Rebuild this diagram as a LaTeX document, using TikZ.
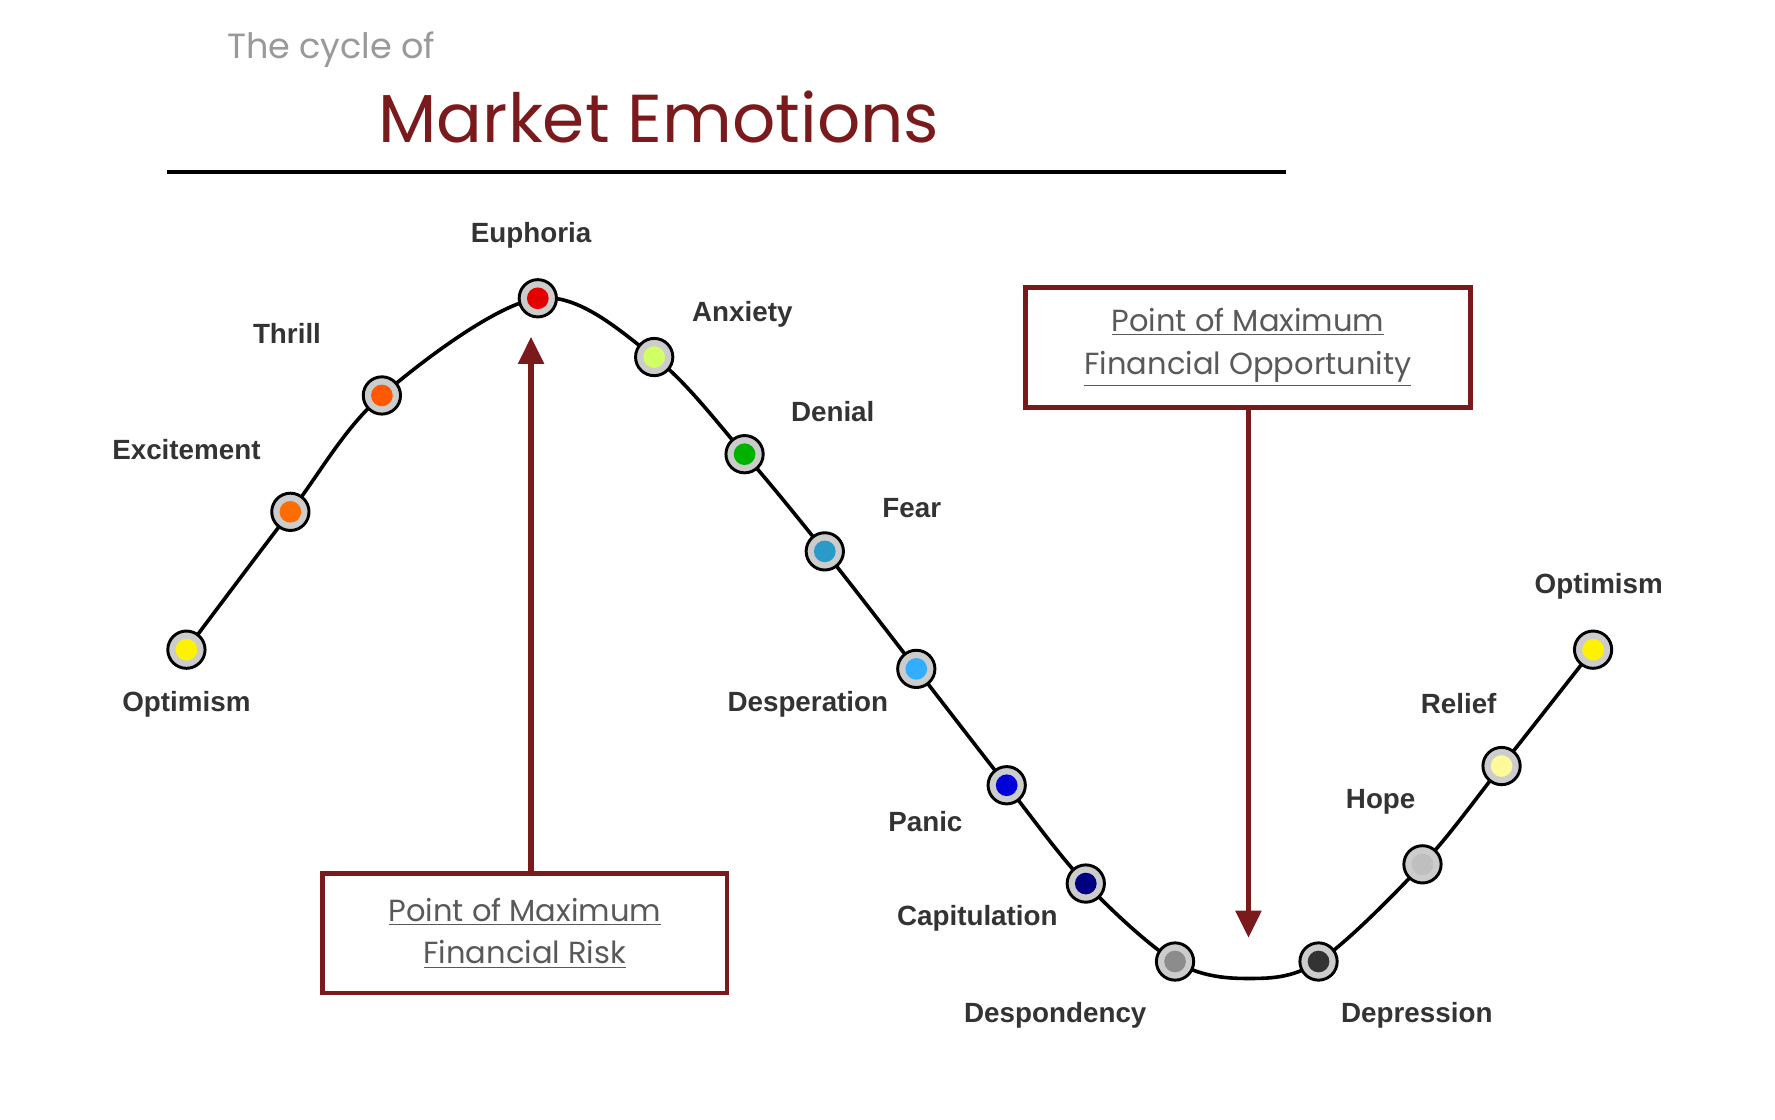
\documentclass[tikz,border=0pt]{standalone}
\usepackage{fontspec}
\setmainfont{Liberation Sans}
\newfontfamily\geo{Poppins}
\usetikzlibrary{arrows.meta}
\definecolor{dred}{HTML}{7B1A1C}
\begin{document}
\begin{tikzpicture}[x=0.5pt,y=-0.5pt,
  lab/.style={font=\fontsize{12.3}{14}\selectfont\bfseries, text=black!80},
  dot/.style={circle, draw=black, line width=1.3pt, fill=black!20, minimum size=16.5pt, inner sep=0pt, path picture={\fill[#1] (path picture bounding box.center) circle (4.8pt);}},
  bx/.style={draw=dred, line width=2pt, fill=white, minimum width=#1, minimum height=53pt, align=center, font=\geo\fontsize{13.5}{19}\selectfont, text=black!65},
  arr/.style={dred, line width=2.5pt, -{Triangle[length=12pt,width=11pt]}}]
\useasboundingbox (0,0) rectangle (1571,991);
\node[anchor=west, font=\geo\fontsize{15.5}{18}\selectfont, text=black!40] (sub) at (194,44) {The cycle of};
\node[anchor=west, font=\geo\fontsize{30}{34}\selectfont, text=dred] (title) at (328,104) {Market Emotions};
\draw[line width=1.6pt] (148,152) coordinate (l1) -- (1138,152) coordinate (l2);
\draw[line width=1.6pt] plot[smooth, tension=0.55] coordinates {(165,575) (257,453) (338,350) (476,264) (579,316) (659,402) (730,488) (811,592) (891,695) (961,782) (1040,851) (1103,866) (1167,851) (1259,765) (1329,678) (1410,575)};
\node[dot=yellow] (p1) at (165,575) {};
\node[dot={orange!85!red}] (p2) at (257,453) {};
\node[dot={orange!70!red}] (p3) at (338,350) {};
\node[dot=red!90!black] (p4) at (476,264) {};
\node[dot={green!30!yellow!60!white}] (p5) at (579,316) {};
\node[dot={green!70!black}] (p6) at (659,402) {};
\node[dot={cyan!60!teal}] (p7) at (730,488) {};
\node[dot={blue!40!cyan!80!white}] (p8) at (811,592) {};
\node[dot=blue!85!black] (p9) at (891,695) {};
\node[dot=blue!50!black] (p10) at (961,782) {};
\node[dot=black!45] (p11) at (1040,851) {};
\node[dot=black!80] (p12) at (1167,851) {};
\node[dot=black!25] (p13) at (1259,765) {};
\node[dot={yellow!40}] (p14) at (1329,678) {};
\node[dot=yellow] (p15) at (1410,575) {};
\node[lab] (t1) at (165,623) {Optimism};
\node[lab] (t2) at (165,398) {Excitement};
\node[lab] (t3) at (254,295) {Thrill};
\node[lab] (t4) at (470,208) {Euphoria};
\node[lab] (t5) at (657,278) {Anxiety};
\node[lab] (t6) at (737,364) {Denial};
\node[lab] (t7) at (807,450) {Fear};
\node[lab] (t8) at (715,623) {Desperation};
\node[lab] (t9) at (819,727) {Panic};
\node[lab] (t10) at (865,813) {Capitulation};
\node[lab] (t11) at (934,899) {Despondency};
\node[lab] (t12) at (1254,899) {Depression};
\node[lab] (t13) at (1222,710) {Hope};
\node[lab] (t14) at (1291,623) {Relief};
\node[lab] (t15) at (1415,519) {Optimism};
\node[bx=179pt] (risk) at (464.5,826) {\underline{Point of Maximum}\\\underline{Financial Risk}};
\node[bx=197pt] (opp) at (1104.5,307.5) {\underline{Point of Maximum}\\\underline{Financial Opportunity}};
\coordinate (rt) at (470,298);
\coordinate (ot) at (1105,830);
\draw[arr] (risk.north -| rt) -- (rt);
\draw[arr] (opp.south -| ot) -- (ot);
\end{tikzpicture}
\end{document}
